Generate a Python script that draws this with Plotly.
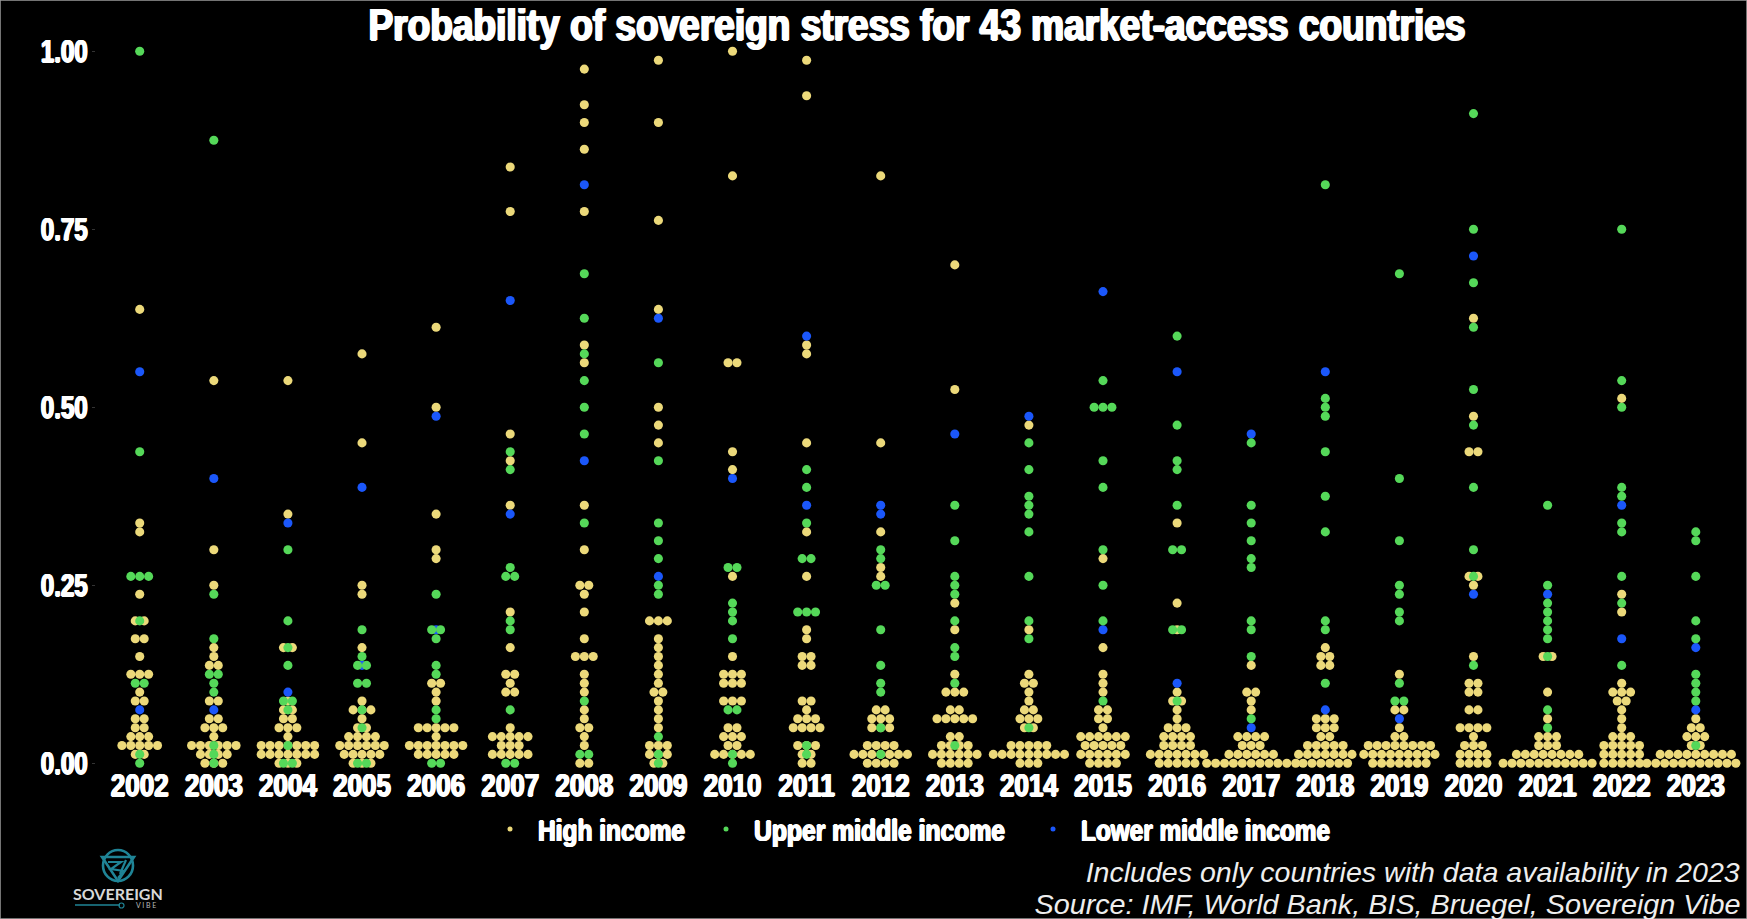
import plotly.graph_objects as go
from collections import Counter

years = list(range(2002, 2024))

# Stress probabilities by income group and year (one entry per country)
high_2002 = [.6375, .3375, .325, .2375, .2, .2, .175, .175, .15, *[.125]*3, .1, .0875, .0875, .0625, .0625, .05, .05, *[.0375]*3, *[.025]*5, .0125, .0125]
upper_2002 = [1.0, .4375, *[.2625]*3, .2, .1125, .1125, .0125, 0]
lower_2002 = [.55, .075]

high_2003 = [.5375, .3, .25, .1625, .15, .1375, .1375, .0875, .0875, .0625, .0625, *[.05]*3, .0375, *[.025]*6, *[.0125]*4, *[0]*3]
upper_2003 = [.875, .2375, .175, .125, .125, .1125, .1, .025, .0125, 0]
lower_2003 = [.4, .075]

high_2004 = [.5375, .35, .1625, .1625, .0875, .075, .075, .0625, .0625, *[.05]*3, .0375, *[.025]*7, *[.0125]*7, *[0]*3]
upper_2004 = [.3, .2, .1625, .1375, .0875, .0875, .075, .025, 0, 0]
lower_2004 = [.3375, .1]

high_2005 = [.575, .45, .25, .2375, .1625, .0875, *[.075]*3, .0625, .05, .05, *[.0375]*4, *[.025]*6, *[.0125]*5, *[0]*3]
upper_2005 = [.1875, .15, .1375, .1375, .1125, .1125, .075, .05, 0, 0]
lower_2005 = [.3875, .1375]

high_2006 = [.6125, .5, .35, .3, .2875, .1125, .1125, .1, .0875, *[.05]*5, .0375, *[.025]*7, *[.0125]*5]
upper_2006 = [.2375, .1875, .1875, .175, .1375, .125, .075, .0625, 0, 0]
lower_2006 = [.4875, .1875]

high_2007 = [.8375, .775, .4625, .425, .3625, .2125, .1625, .125, .125, .1125, .1, .1, .05, *[.0375]*5, *[.025]*3, *[.0125]*5]
upper_2007 = [.4375, .4125, .275, .2625, .2625, .2, .1875, .075, 0, 0]
lower_2007 = [.65, .35]

high_2008 = [.975, .925, .9, .8625, .775, .5875, .5625, .3625, .3, .25, .25, .2375, .2125, .175, *[.15]*3, .125, .1125, .1, .075, .0625, .05, .05, .0375, .025, 0, 0]
upper_2008 = [.6875, .625, .575, .5375, .5, .4625, .3375, .0875, .0125, .0125]
lower_2008 = [.8125, .425]

high_2009 = [.9875, .9, .7625, .6375, .5, .475, .45, *[.2]*3, .175, .1625, .15, .1375, .125, .1125, .1, .1, .0875, .075, .0625, .05, *[.025]*3, *[.0125]*3, 0, 0]
upper_2009 = [.5625, .425, .3375, .3125, .2875, .25, .2375, .0375, .0125, 0]
lower_2009 = [.625, .2625]

high_2010 = [1.0, .825, .5625, .5625, .4375, .4125, .2625, .15, *[.125]*3, *[.1125]*3, *[.0875]*3, .05, .05, *[.0375]*3, .025, .025, *[.0125]*5]
upper_2010 = [.275, .275, .225, .2125, .2, .175, .075, .075, .0125, 0]
lower_2010 = [.4]

high_2011 = [.9875, .9375, .5875, .575, .45, .325, .2625, .1875, .175, .15, .15, .1375, .1375, .0875, .0875, .075, *[.0625]*3, *[.05]*4, *[.025]*3, .0125, .0125, 0, 0]
upper_2011 = [.4125, .3875, .3375, .2875, .2875, *[.2125]*3, .025, .0125]
lower_2011 = [.6, .3625]

high_2012 = [.825, .45, .325, .275, .2625, .075, .075, *[.0625]*3, *[.05]*3, *[.025]*4, *[.0125]*7, *[0]*4]
upper_2012 = [.3, .2875, .25, .25, .1875, .1375, .1125, .1, .05, .0125]
lower_2012 = [.3625, .35]

high_2013 = [.7, .525, .225, .1875, .125, *[.1]*3, .075, .075, *[.0625]*5, .0375, .0375, *[.025]*4, *[.0125]*6, *[0]*4]
upper_2013 = [.3625, .3125, .2625, .25, .2375, .2, .1625, .15, .1125, .025]
lower_2013 = [.4625]

high_2014 = [.475, .1875, .125, .1125, .1125, .1, .0875, .075, .075, *[.0625]*3, .05, .05, *[.025]*5, *[.0125]*9, *[0]*3]
upper_2014 = [.45, .4125, .375, .3625, .35, .325, .2625, .2, .175, .05]
lower_2014 = [.4875]

high_2015 = [.2875, .1625, .125, .1125, .1, .075, .075, .0625, .0625, .05, *[.0375]*6, *[.025]*5, *[.0125]*6, *[0]*4]
upper_2015 = [.5375, *[.5]*3, .425, .3875, .3, .25, .2, .0875]
lower_2015 = [.6625, .1875]

high_2016 = [.3375, .225, .1875, .1, .0875, .0875, .075, .0625, *[.05]*3, *[.0375]*4, *[.025]*4, *[.0125]*7, *[0]*5]
upper_2016 = [.6, .475, .425, .4125, .3625, .3, .3, .1875, .1875, .0875]
lower_2016 = [.55, .1125]

high_2017 = [.1375, .1, .1, .0875, .075, *[.0375]*4, *[.025]*3, *[.0125]*6, *[0]*11]
upper_2017 = [.45, .3625, .3375, .3125, .2875, .275, .2, .1875, .15, .0625]
lower_2017 = [.4625, .05]

high_2018 = [.1625, .15, .15, .1375, .1375, *[.0625]*3, *[.05]*3, .0375, .0375, *[.025]*5, *[.0125]*7, *[0]*6]
upper_2018 = [.8125, .5125, .5, .4875, .4375, .375, .325, .2, .1875, .1125]
lower_2018 = [.55, .075]

high_2019 = [.125, .075, .075, .05, .0375, .0375, *[.025]*8, *[.0125]*9, *[0]*7]
upper_2019 = [.6875, .4, .3125, .25, .2375, .2125, .2, .1125, .0875, .0875]
lower_2019 = [.0625]

high_2020 = [.625, .4875, .4375, .4375, .2625, .2625, .25, .15, .1125, .1125, .1, .1, .075, .075, *[.05]*4, .0375, *[.025]*3, *[.0125]*4, *[0]*4]
upper_2020 = [.9125, .75, .675, .6125, .525, .475, .3875, .3, .2625, .1375]
lower_2020 = [.7125, .2375]

high_2021 = [.15, .15, .1, .0625, *[.0375]*3, *[.025]*3, *[.0125]*8, *[0]*11]
upper_2021 = [.3625, .25, .225, .2125, .2, .1875, .175, .15, .075, .05]
lower_2021 = [.2375]

high_2022 = [.5125, .2375, .2125, .1125, *[.1]*3, .0875, .0875, .075, .0625, .05, *[.0375]*3, *[.025]*5, *[.0125]*5, *[0]*5]
upper_2022 = [.75, .5375, .5, .3875, .375, .3375, .325, .2625, .225, .1375]
lower_2022 = [.3625, .175]

high_2023 = [.0625, .05, .05, *[.0375]*3, .025, .025, *[.0125]*9, *[0]*11]
upper_2023 = [.325, .3125, .2625, .2, .175, .125, .1125, .1, .0875, .025]
lower_2023 = [.1625, .075]

high_income = [high_2002, high_2003, high_2004, high_2005, high_2006, high_2007, high_2008, high_2009, high_2010, high_2011, high_2012,
               high_2013, high_2014, high_2015, high_2016, high_2017, high_2018, high_2019, high_2020, high_2021, high_2022, high_2023]
upper_middle = [upper_2002, upper_2003, upper_2004, upper_2005, upper_2006, upper_2007, upper_2008, upper_2009, upper_2010, upper_2011, upper_2012,
                upper_2013, upper_2014, upper_2015, upper_2016, upper_2017, upper_2018, upper_2019, upper_2020, upper_2021, upper_2022, upper_2023]
lower_middle = [lower_2002, lower_2003, lower_2004, lower_2005, lower_2006, lower_2007, lower_2008, lower_2009, lower_2010, lower_2011, lower_2012,
                lower_2013, lower_2014, lower_2015, lower_2016, lower_2017, lower_2018, lower_2019, lower_2020, lower_2021, lower_2022, lower_2023]

DOT_STEP = 0.1201              # horizontal distance between neighbouring dots, in years
ROW_NUDGE = {(2023, 0): -0.5}  # crowded bottom row pushed half a dot clear of 2022

YELLOW, GREEN, BLUE, TEAL = "#ECD97A", "#55D859", "#1B57FA", "#1F8496"
HEAVY = "Liberation Sans"
THICK = "1px 0 0 #fff, -1px 0 0 #fff, 0 0.5px 0 #fff, 0 -0.5px 0 #fff"
THICKER = "1.3px 0 0 #fff, -1.3px 0 0 #fff, 0 0.6px 0 #fff, 0 -0.6px 0 #fff"
W, H = 1747, 919


def swarm(per_year):
    """Centre each year's dots on their value rows and return x/y columns."""
    xs, ys = [], []
    for year, values in zip(years, per_year):
        for value, n in Counter(values).items():
            nudge = ROW_NUDGE.get((year, value), 0)
            for j in range(n):
                xs.append(year + (j - (n - 1) / 2 + nudge) * DOT_STEP)
                ys.append(value)
    return xs, ys


fig = go.Figure()

# Upper middle income is drawn last so it sits on top of the shared rows
for values, colour in [(high_income, YELLOW), (lower_middle, BLUE), (upper_middle, GREEN)]:
    xs, ys = swarm(values)
    fig.add_trace(go.Scatter(x=xs, y=ys, mode="markers", showlegend=False, cliponaxis=False,
                             marker=dict(size=9.1, color=colour, line=dict(width=0))))

# Legend entries use smaller markers than the plotted dots
for name, colour, legend_id in [("High income", YELLOW, "legend"),
                                ("Upper middle income", GREEN, "legend2"),
                                ("Lower middle income", BLUE, "legend3")]:
    fig.add_trace(go.Scatter(x=[None], y=[None], mode="markers", name=name, legend=legend_id,
                             marker=dict(size=5, color=colour)))


def legend_at(px):
    return dict(x=px / W, y=1 - 829 / H, xanchor="left", yanchor="middle", itemwidth=46, bgcolor="rgba(0,0,0,0)",
                font=dict(family=HEAVY, size=30, color="#fff", weight="bold", shadow=THICK))


def px_x(px):
    return px / W


def px_y(py):
    return 1 - py / H


# Sovereign Vibe mark, built from simple paper-space outlines
def outline(points, width=2.6, close=False):
    path = "M " + " L ".join(f"{px_x(x):.5f},{px_y(y):.5f}" for x, y in points) + (" Z" if close else "")
    return dict(type="path", xref="paper", yref="paper", path=path, line=dict(color=TEAL, width=width))


logo_shapes = [
    dict(type="circle", xref="paper", yref="paper", x0=px_x(103), x1=px_x(133), y0=px_y(850), y1=px_y(881),
         line=dict(color=TEAL, width=2.6)),
    outline([(102, 857), (134, 857), (118, 881)], close=True),
    outline([(108, 862), (121, 862), (111, 869), (124, 871), (118, 878)], width=2.2),
    outline([(126, 860), (120, 874)], width=2.2),
    outline([(75, 905), (120, 905)], width=1.6),
    dict(type="circle", xref="paper", yref="paper", x0=px_x(119), x1=px_x(124), y0=px_y(903), y1=px_y(908),
         line=dict(color=TEAL, width=1.2)),
    # thin frame around the whole canvas
    dict(type="rect", xref="paper", yref="paper", x0=0, x1=1, y0=0, y1=1, line=dict(color="#9a9a9a", width=1.5)),
]

fig.update_layout(
    width=W, height=H, autosize=False,
    paper_bgcolor="#000", plot_bgcolor="#000",
    margin=dict(l=0, r=0, t=0, b=0, pad=0, autoexpand=False),
    title=dict(text="Probability of sovereign stress for 43 market-access countries",
               x=917 / W, xanchor="center", xref="paper", y=1 - 25 / H, yanchor="middle", yref="container",
               font=dict(family=HEAVY, size=44, color="#fff", weight="bold", shadow=THICKER)),
    xaxis=dict(domain=[96 / W, 1737 / W], range=[2001.41, 2023.556], tickvals=years, ticktext=[str(y) for y in years],
               showgrid=False, zeroline=False, showline=False, ticks="", ticklabelstandoff=-8,
               tickfont=dict(family=HEAVY, size=31, color="#fff", weight="bold", shadow=THICK)),
    yaxis=dict(domain=[147 / H, 879 / H], range=[-0.01222, 1.01587], tickvals=[0, .25, .5, .75, 1],
               ticktext=["0.00", "0.25", "0.50", "0.75", "1.00"],
               showgrid=False, zeroline=False, showline=False, ticks="outside", ticklen=3, tickcolor="#333", tickwidth=1,
               ticklabelstandoff=-2,
               tickfont=dict(family=HEAVY, size=31, color="#fff", weight="bold", shadow=THICK)),
    legend=legend_at(482),
    legend2=legend_at(698),
    legend3=legend_at(1025),
    shapes=logo_shapes,
    annotations=[
        dict(text="Includes only countries with data availability in 2023", xref="paper", yref="paper", x=px_x(1413), y=px_y(872),
             xanchor="center", yanchor="middle", showarrow=False,
             font=dict(family="Liberation Sans", size=28, color="#eee", style="italic")),
        dict(text="Source: IMF, World Bank, BIS, Bruegel, Sovereign Vibe", xref="paper", yref="paper", x=px_x(1387), y=px_y(904),
             xanchor="center", yanchor="middle", showarrow=False,
             font=dict(family="Liberation Sans", size=28, color="#eee", style="italic")),
        dict(text="SOVEREIGN", xref="paper", yref="paper", x=px_x(118), y=px_y(893), xanchor="center", yanchor="middle",
             showarrow=False, font=dict(family="Lato", size=16, color="#d8d8d8", weight="bold")),
        dict(text="V I B E", xref="paper", yref="paper", x=px_x(146), y=px_y(905), xanchor="center", yanchor="middle",
             showarrow=False, font=dict(family="Lato", size=7, color="#bbb")),
    ],
)

# The installed sans is wider than the condensed display face, so text is fitted to width after layout.
# Extra legends finish drawing a moment later, so the widths are applied again on a short timer.
CONDENSE = """
const fit = (t, w) => { t.setAttribute('textLength', w); t.setAttribute('lengthAdjust', 'spacingAndGlyphs'); };
const scale = (sel, f) => document.querySelectorAll(sel).forEach(t => fit(t, t.getComputedTextLength() * f));
scale('.gtitle', 1097 / document.querySelector('.gtitle').getComputedTextLength());
scale('.xtick text', 0.84);
scale('.ytick text', 0.78);
const widths = {'High income': 147, 'Upper middle income': 251, 'Lower middle income': 249,
                'Includes only countries with data availability in 2023': 654,
                'Source: IMF, World Bank, BIS, Bruegel, Sovereign Vibe': 706};
const fitNamed = () => document.querySelectorAll('text').forEach(t => {
  if (widths[t.textContent]) fit(t, widths[t.textContent]);
});
fitNamed();
[0, 50, 200, 500].forEach(ms => setTimeout(fitNamed, ms));
"""

fig.write_html("out.html", post_script=CONDENSE)
